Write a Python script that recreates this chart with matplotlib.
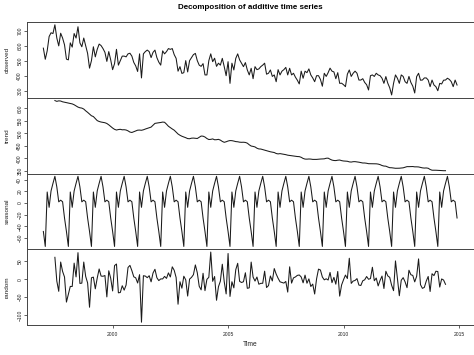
import numpy as np
import matplotlib
matplotlib.use("Agg")
import matplotlib.pyplot as plt
from matplotlib.ticker import FixedLocator

plt.rcParams['font.family'] = ['Liberation Sans', 'DejaVu Sans']

# ---- data (monthly, Jan 1997 - Dec 2014) ----
start_year = 1997
frequency = 12
observed = [
    583, 509, 565, 660, 685, 680, 738, 650, 598, 682, 650, 605,   # 1997
    510, 505, 618, 590, 680, 650, 725, 618, 592, 650, 600, 548,   # 1998
    450, 500, 592, 525, 575, 610, 600, 580, 555, 495, 560, 505,   # 1999
    440, 480, 575, 470, 500, 530, 530, 525, 545, 549, 530, 488,   # 2000
    465, 428, 545, 385, 545, 560, 570, 560, 520, 555, 570, 520,   # 2001
    490, 470, 565, 545, 560, 580, 575, 580, 540, 515, 430, 460,   # 2002
    415, 420, 500, 425, 500, 520, 540, 548, 500, 470, 462, 480,   # 2003
    405, 405, 500, 545, 493, 516, 462, 483, 470, 515, 460, 400,   # 2004
    493, 349, 483, 438, 515, 545, 505, 483, 460, 487, 438, 405,   # 2005
    449, 380, 460, 440, 445, 460, 470, 483, 410, 416, 438, 395,   # 2006
    405, 360, 440, 405, 430, 440, 455, 405, 449, 405, 416, 390,   # 2007
    370, 345, 430, 383, 430, 420, 445, 405, 385, 360, 400, 400,   # 2008
    375, 330, 416, 395, 420, 450, 430, 425, 380, 420, 349, 350,   # 2009
    340, 327, 410, 438, 395, 416, 430, 416, 371, 371, 380, 355,   # 2010
    340, 305, 400, 405, 395, 416, 405, 400, 383, 349, 394, 350,   # 2011
    320, 272, 349, 405, 383, 349, 405, 395, 360, 349, 395, 355,   # 2012
    330, 285, 394, 416, 370, 371, 385, 385, 371, 327, 371, 338,   # 2013
    327, 300, 349, 345, 370, 371, 383, 375, 360, 327, 371, 338,   # 2014
]
panel_names = ['observed', 'trend', 'seasonal', 'random']
x_ticks = [2000, 2005, 2010, 2015]
title = 'Decomposition of additive time series'

# ---- classical additive decomposition (as R's decompose) ----
x = np.asarray(observed, dtype=float)
n = len(x)
t = start_year + np.arange(n) / frequency
w = np.r_[0.5, np.ones(frequency - 1), 0.5] / frequency
trend = np.full(n, np.nan)
half = frequency // 2
trend[half:n - half] = np.convolve(x, w, mode='valid')
detr = x - trend
figure = np.array([np.nanmean(detr[k::frequency]) for k in range(frequency)])
figure -= figure.mean()
seasonal = np.tile(figure, n // frequency)
random = x - seasonal - trend
series = [x, trend, seasonal, random]
steps = [100, 50, 20, 50]

# ---- layout (pixels of a 474x355 image) ----
W, H = 474, 355
fig = plt.figure(figsize=(W / 100, H / 100), dpi=100)
left_px, right_px = 26.8, 473.6
top_px, bot_px = 22.0, 325.0
ph = (bot_px - top_px) / 4
xlo = t[0] - 0.04 * (t[-1] - t[0])
xhi = t[-1] + 0.04 * (t[-1] - t[0])

for k, (name, s, st) in enumerate(zip(panel_names, series, steps)):
    y_top = top_px + k * ph
    ax = fig.add_axes([left_px / W, 1 - (y_top + ph) / H,
                       (right_px - left_px) / W, ph / H])
    ax.plot(t, s, color='#1a1a1a', lw=0.75)
    ax.set_xlim(xlo, xhi)
    lo, hi = np.nanmin(s), np.nanmax(s)
    r = hi - lo
    ylo, yhi = lo - 0.04 * r, hi + 0.04 * r
    ax.set_ylim(ylo, yhi)
    ticks = np.arange(np.ceil(ylo / st) * st, yhi + 1e-9, st)
    ax.yaxis.set_major_locator(FixedLocator(ticks))
    ax.tick_params(axis='y', labelsize=3.6, length=2.2, width=0.5,
                   pad=1.0, direction='out', colors='#222222')
    for lab in ax.get_yticklabels():
        lab.set_rotation(90)
        lab.set_va('center')
    for sp in ax.spines.values():
        sp.set_linewidth(0.7)
        sp.set_color('#444444')
    if k < 3:
        ax.tick_params(axis='x', bottom=False, labelbottom=False)
    else:
        ax.xaxis.set_major_locator(FixedLocator(x_ticks))
        ax.tick_params(axis='x', labelsize=3.6, length=2.2, width=0.5,
                       pad=2.5, direction='out', colors='#222222')
    fig.text(7.5 / W, 1 - (y_top + ph / 2) / H, name, rotation=90,
             ha='center', va='center', fontsize=4.6, color='#222222')

fig.text((left_px + right_px) / 2 / W, 1 - 7.7 / H, title,
         ha='center', va='center', fontsize=5.8, fontweight='bold')
fig.text((left_px + right_px) / 2 / W, 1 - 344.3 / H, 'Time',
         ha='center', va='center', fontsize=4.8, color='#222222')

fig.savefig('out.png', dpi=100)
